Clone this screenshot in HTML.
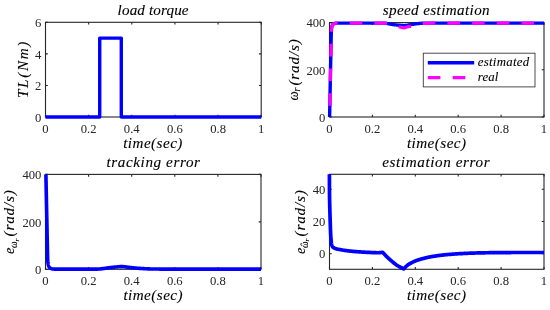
<!DOCTYPE html>
<html lang="en"><head><meta charset="utf-8"><title>simulation results</title>
<style>
html,body{margin:0;padding:0;background:#fff;}
body{width:550px;height:310px;overflow:hidden;}
svg{display:block;}
.tk{font-family:"Liberation Serif",serif;font-size:13.4px;fill:#262626;}
.it{font-family:"Liberation Serif",serif;font-style:italic;font-size:14px;fill:#000;stroke:#000;stroke-width:0.1px;}
.lg{font-family:"Liberation Serif",serif;font-style:italic;font-size:12.8px;fill:#000;stroke:#000;stroke-width:0.1px;}
</style></head><body>
<svg width="550" height="310" viewBox="0 0 550 310">
<rect width="550" height="310" fill="#fff"/>
<path d="M45.5 117 v-2.3 M45.5 22.3 v2.3 M88.64 117 v-2.3 M88.64 22.3 v2.3 M131.78 117 v-2.3 M131.78 22.3 v2.3 M174.92 117 v-2.3 M174.92 22.3 v2.3 M218.06 117 v-2.3 M218.06 22.3 v2.3 M261.2 117 v-2.3 M261.2 22.3 v2.3 M45.5 117 h2.3 M261.2 117 h-2.3 M45.5 85.43 h2.3 M261.2 85.43 h-2.3 M45.5 53.87 h2.3 M261.2 53.87 h-2.3 M45.5 22.3 h2.3 M261.2 22.3 h-2.3" stroke="#262626" stroke-width="1.1" fill="none"/>
<rect x="45.5" y="22.3" width="215.7" height="94.7" fill="none" stroke="#262626" stroke-width="1.1"/>
<path d="M45.5 117 H99.72 V38.08 H121.29 V117 H261.2" fill="none" stroke="#0000ff" stroke-width="3.4" stroke-linejoin="round"/>
<text class="tk" transform="translate(45.5 132.9) scale(0.945 1)" text-anchor="middle">0</text>
<text class="tk" transform="translate(88.64 132.9) scale(0.945 1)" text-anchor="middle">0.2</text>
<text class="tk" transform="translate(131.78 132.9) scale(0.945 1)" text-anchor="middle">0.4</text>
<text class="tk" transform="translate(174.92 132.9) scale(0.945 1)" text-anchor="middle">0.6</text>
<text class="tk" transform="translate(218.06 132.9) scale(0.945 1)" text-anchor="middle">0.8</text>
<text class="tk" transform="translate(261.2 132.9) scale(0.945 1)" text-anchor="middle">1</text>
<text class="tk" transform="translate(41.4 121.7) scale(0.945 1)" text-anchor="end">0</text>
<text class="tk" transform="translate(41.4 90.13) scale(0.945 1)" text-anchor="end">2</text>
<text class="tk" transform="translate(41.4 58.57) scale(0.945 1)" text-anchor="end">4</text>
<text class="tk" transform="translate(41.4 27) scale(0.945 1)" text-anchor="end">6</text>
<path d="M329.5 117 v-2.3 M329.5 22.6 v2.3 M372.4 117 v-2.3 M372.4 22.6 v2.3 M415.3 117 v-2.3 M415.3 22.6 v2.3 M458.2 117 v-2.3 M458.2 22.6 v2.3 M501.1 117 v-2.3 M501.1 22.6 v2.3 M544 117 v-2.3 M544 22.6 v2.3 M329.5 117 h2.3 M544 117 h-2.3 M329.5 69.8 h2.3 M544 69.8 h-2.3 M329.5 22.6 h2.3 M544 22.6 h-2.3" stroke="#262626" stroke-width="1.1" fill="none"/>
<rect x="329.5" y="22.6" width="214.5" height="94.4" fill="none" stroke="#262626" stroke-width="1.1"/>
<path d="M329.6 117 L331.25 34 L331.27 33.08 L331.3 32.21 L331.33 31.39 L331.37 30.62 L331.42 29.89 L331.47 29.22 L331.54 28.59 L331.61 28 L331.7 27.46 L331.8 26.95 L331.91 26.49 L332.04 26.06 L332.19 25.67 L332.35 25.31 L332.52 24.99 L332.72 24.7 L332.94 24.43 L333.18 24.2 L333.44 23.99 L333.72 23.81 L334.02 23.66 L334.35 23.53 L334.71 23.41 L335.09 23.32 L335.5 23.25 L335.94 23.19 L336.41 23.15 L336.91 23.12 L337.44 23.1 L338 23.1 L338.5 23.1 L339 23.1 L339.5 23.1 L340 23.1 L340.5 23.1 L341 23.1 L341.5 23.1 L342 23.1 L342.5 23.1 L343 23.1 L343.5 23.1 L344 23.1 L344.5 23.1 L345 23.1 L345.5 23.1 L346 23.1 L346.5 23.1 L347 23.1 L347.5 23.1 L348 23.1 L348.5 23.1 L349 23.1 L349.5 23.1 L350 23.1 L350.5 23.1 L351 23.1 L351.5 23.1 L352 23.1 L352.5 23.1 L353 23.1 L353.5 23.1 L354 23.1 L354.5 23.1 L355 23.1 L355.5 23.1 L356 23.1 L356.5 23.1 L357 23.1 L357.5 23.1 L358 23.1 L358.5 23.1 L359 23.1 L359.5 23.1 L360 23.1 L360.5 23.1 L361 23.1 L361.5 23.1 L362 23.1 L362.5 23.1 L363 23.1 L363.5 23.1 L364 23.1 L364.5 23.1 L365 23.1 L365.5 23.1 L366 23.1 L366.5 23.1 L367 23.1 L367.5 23.1 L368 23.1 L368.5 23.1 L369 23.1 L369.5 23.1 L370 23.1 L370.5 23.1 L371 23.1 L371.5 23.1 L372 23.1 L372.5 23.1 L373 23.1 L373.5 23.1 L374 23.1 L374.5 23.1 L375 23.1 L375.5 23.1 L376 23.1 L376.5 23.1 L377 23.1 L377.5 23.1 L378 23.1 L378.5 23.1 L379 23.1 L379.5 23.1 L380 23.1 L380.5 23.1 L381 23.1 L381.5 23.1 L382 23.1 L382.5 23.1 L383 23.1 L383.5 23.1 L384 23.11 L384.5 23.15 L385 23.21 L385.5 23.27 L386 23.35 L386.5 23.43 L387 23.5 L387.5 23.57 L388 23.66 L388.5 23.75 L389 23.85 L389.5 23.95 L390 24.06 L390.5 24.16 L391 24.26 L391.5 24.36 L392 24.45 L392.5 24.53 L393 24.6 L393.5 24.66 L394 24.72 L394.5 24.78 L395 24.83 L395.5 24.88 L396 24.93 L396.5 24.98 L397 25.02 L397.5 25.07 L398 25.11 L398.5 25.16 L399 25.2 L399.47 25.24 L399.95 25.29 L400.42 25.34 L400.89 25.39 L401.36 25.43 L401.84 25.48 L402.31 25.52 L402.78 25.55 L403.25 25.58 L403.73 25.59 L404.2 25.6 L404.69 25.59 L405.17 25.56 L405.66 25.52 L406.14 25.46 L406.63 25.39 L407.11 25.31 L407.6 25.23 L408.09 25.13 L408.57 25.04 L409.06 24.95 L409.54 24.85 L410.03 24.76 L410.51 24.68 L411 24.6 L411.5 24.52 L412 24.44 L412.5 24.36 L413 24.28 L413.5 24.2 L414 24.11 L414.5 24.03 L415 23.96 L415.5 23.88 L416 23.82 L416.5 23.75 L417 23.7 L417.5 23.65 L418 23.6 L418.5 23.55 L419 23.51 L419.5 23.47 L420 23.43 L420.5 23.39 L421 23.35 L421.5 23.32 L422 23.29 L422.5 23.27 L423 23.25 L423.5 23.23 L424 23.22 L424.5 23.2 L425 23.19 L425.5 23.17 L426 23.16 L426.5 23.15 L427 23.13 L427.5 23.12 L428 23.12 L428.5 23.11 L429 23.1 L429.5 23.1 L430 23.1 L430.5 23.1 L431 23.1 L431.5 23.1 L432 23.1 L432.5 23.1 L433 23.1 L433.5 23.1 L434 23.1 L434.5 23.1 L435 23.1 L435.5 23.1 L436 23.1 L436.5 23.1 L437 23.1 L437.5 23.1 L438 23.1 L438.5 23.1 L439 23.1 L439.5 23.1 L440 23.1 L440.5 23.1 L441 23.1 L441.5 23.1 L442 23.1 L442.5 23.1 L443 23.1 L443.5 23.1 L444 23.1 L444.5 23.1 L445 23.1 L445.5 23.1 L446 23.1 L446.5 23.1 L447 23.1 L447.5 23.1 L448 23.1 L448.5 23.1 L449 23.1 L449.5 23.1 L450 23.1 L450.5 23.1 L451 23.1 L451.5 23.1 L452 23.1 L452.5 23.1 L453 23.1 L453.5 23.1 L454 23.1 L454.5 23.1 L455 23.1 L455.5 23.1 L456 23.1 L456.5 23.1 L457 23.1 L457.5 23.1 L458 23.1 L458.5 23.1 L459 23.1 L459.5 23.1 L460 23.1 L460.5 23.1 L461 23.1 L461.5 23.1 L462 23.1 L462.5 23.1 L463 23.1 L463.5 23.1 L464 23.1 L464.5 23.1 L465 23.1 L465.5 23.1 L466 23.1 L466.5 23.1 L467 23.1 L467.5 23.1 L468 23.1 L468.5 23.1 L469 23.1 L469.5 23.1 L470 23.1 L470.5 23.1 L471 23.1 L471.5 23.1 L472 23.1 L472.5 23.1 L473 23.1 L473.5 23.1 L474 23.1 L474.5 23.1 L475 23.1 L475.5 23.1 L476 23.1 L476.5 23.1 L477 23.1 L477.5 23.1 L478 23.1 L478.5 23.1 L479 23.1 L479.5 23.1 L480 23.1 L480.5 23.1 L481 23.1 L481.5 23.1 L482 23.1 L482.5 23.1 L483 23.1 L483.5 23.1 L484 23.1 L484.5 23.1 L485 23.1 L485.5 23.1 L486 23.1 L486.5 23.1 L487 23.1 L487.5 23.1 L488 23.1 L488.5 23.1 L489 23.1 L489.5 23.1 L490 23.1 L490.5 23.1 L491 23.1 L491.5 23.1 L492 23.1 L492.5 23.1 L493 23.1 L493.5 23.1 L494 23.1 L494.5 23.1 L495 23.1 L495.5 23.1 L496 23.1 L496.5 23.1 L497 23.1 L497.5 23.1 L498 23.1 L498.5 23.1 L499 23.1 L499.5 23.1 L500 23.1 L500.5 23.1 L501 23.1 L501.5 23.1 L502 23.1 L502.5 23.1 L503 23.1 L503.5 23.1 L504 23.1 L504.5 23.1 L505 23.1 L505.5 23.1 L506 23.1 L506.5 23.1 L507 23.1 L507.5 23.1 L508 23.1 L508.5 23.1 L509 23.1 L509.5 23.1 L510 23.1 L510.5 23.1 L511 23.1 L511.5 23.1 L512 23.1 L512.5 23.1 L513 23.1 L513.5 23.1 L514 23.1 L514.5 23.1 L515 23.1 L515.5 23.1 L516 23.1 L516.5 23.1 L517 23.1 L517.5 23.1 L518 23.1 L518.5 23.1 L519 23.1 L519.5 23.1 L520 23.1 L520.5 23.1 L521 23.1 L521.5 23.1 L522 23.1 L522.5 23.1 L523 23.1 L523.5 23.1 L524 23.1 L524.5 23.1 L525 23.1 L525.5 23.1 L526 23.1 L526.5 23.1 L527 23.1 L527.5 23.1 L528 23.1 L528.5 23.1 L529 23.1 L529.5 23.1 L530 23.1 L530.5 23.1 L531 23.1 L531.5 23.1 L532 23.1 L532.5 23.1 L533 23.1 L533.5 23.1 L534 23.1 L534.5 23.1 L535 23.1 L535.5 23.1 L536 23.1 L536.5 23.1 L537 23.1 L537.5 23.1 L538 23.1 L538.5 23.1 L539 23.1 L539.5 23.1 L540 23.1 L540.5 23.1 L541 23.1 L541.5 23.1 L542 23.1 L542.5 23.1 L543 23.1 L543.5 23.1 L544 23.1" fill="none" stroke="#0000ff" stroke-width="3.4" stroke-linejoin="round"/>
<path id="realp" d="M329.6 117 L331.25 34 L331.27 33.08 L331.3 32.21 L331.33 31.39 L331.37 30.62 L331.42 29.89 L331.47 29.22 L331.54 28.59 L331.61 28 L331.7 27.46 L331.8 26.95 L331.91 26.49 L332.04 26.06 L332.19 25.67 L332.35 25.31 L332.52 24.99 L332.72 24.7 L332.94 24.43 L333.18 24.2 L333.44 23.99 L333.72 23.81 L334.02 23.66 L334.35 23.53 L334.71 23.41 L335.09 23.32 L335.5 23.25 L335.94 23.19 L336.41 23.15 L336.91 23.12 L337.44 23.1 L338 23.1 L338.5 23.1 L339 23.1 L339.5 23.1 L340 23.1 L340.5 23.1 L341 23.1 L341.5 23.1 L342 23.1 L342.5 23.1 L343 23.1 L343.5 23.1 L344 23.1 L344.5 23.1 L345 23.1 L345.5 23.1 L346 23.1 L346.5 23.1 L347 23.1 L347.5 23.1 L348 23.1 L348.5 23.1 L349 23.1 L349.5 23.1 L350 23.1 L350.5 23.1 L351 23.1 L351.5 23.1 L352 23.1 L352.5 23.1 L353 23.1 L353.5 23.1 L354 23.1 L354.5 23.1 L355 23.1 L355.5 23.1 L356 23.1 L356.5 23.1 L357 23.1 L357.5 23.1 L358 23.1 L358.5 23.1 L359 23.1 L359.5 23.1 L360 23.1 L360.5 23.1 L361 23.1 L361.5 23.1 L362 23.1 L362.5 23.1 L363 23.1 L363.5 23.1 L364 23.1 L364.5 23.1 L365 23.1 L365.5 23.1 L366 23.1 L366.5 23.1 L367 23.1 L367.5 23.1 L368 23.1 L368.5 23.1 L369 23.1 L369.5 23.1 L370 23.1 L370.5 23.1 L371 23.1 L371.5 23.1 L372 23.1 L372.5 23.1 L373 23.1 L373.5 23.1 L374 23.1 L374.5 23.1 L375 23.1 L375.5 23.1 L376 23.1 L376.5 23.1 L377 23.1 L377.5 23.1 L378 23.1 L378.5 23.1 L379 23.1 L379.5 23.1 L380 23.1 L380.5 23.1 L381 23.1 L381.5 23.1 L382 23.1 L382.5 23.1 L383 23.1 L383.5 23.1 L384 23.11 L384.5 23.14 L385 23.19 L385.5 23.24 L386 23.31 L386.5 23.38 L387 23.45 L387.5 23.53 L388 23.64 L388.5 23.77 L389 23.91 L389.5 24.06 L390 24.22 L390.5 24.39 L391 24.56 L391.5 24.73 L392 24.9 L392.5 25.05 L393 25.2 L393.47 25.33 L393.93 25.46 L394.4 25.59 L394.87 25.73 L395.33 25.86 L395.8 25.99 L396.27 26.11 L396.73 26.24 L397.2 26.36 L397.67 26.48 L398.13 26.59 L398.6 26.7 L399.07 26.81 L399.53 26.93 L400 27.05 L400.47 27.17 L400.93 27.29 L401.4 27.41 L401.87 27.51 L402.33 27.61 L402.8 27.69 L403.27 27.75 L403.73 27.79 L404.2 27.8 L404.67 27.76 L405.13 27.64 L405.6 27.48 L406.07 27.31 L406.53 27.14 L407 27 L407.5 26.89 L408 26.78 L408.5 26.69 L409 26.6 L409.5 26.51 L410 26.41 L410.5 26.31 L411 26.2 L411.5 26.08 L412 25.94 L412.5 25.8 L413 25.65 L413.5 25.49 L414 25.33 L414.5 25.18 L415 25.02 L415.5 24.88 L416 24.74 L416.5 24.61 L417 24.5 L417.5 24.39 L418 24.29 L418.5 24.19 L419 24.08 L419.5 23.99 L420 23.89 L420.5 23.81 L421 23.73 L421.5 23.66 L422 23.59 L422.5 23.54 L423 23.5 L423.5 23.47 L424 23.43 L424.5 23.4 L425 23.38 L425.5 23.35 L426 23.33 L426.5 23.3 L427 23.28 L427.5 23.27 L428 23.25 L428.5 23.23 L429 23.22 L429.5 23.21 L430 23.2 L430.5 23.19 L431 23.18 L431.5 23.18 L432 23.17 L432.5 23.16 L433 23.15 L433.5 23.15 L434 23.14 L434.5 23.13 L435 23.13 L435.5 23.12 L436 23.12 L436.5 23.11 L437 23.11 L437.5 23.11 L438 23.11 L438.5 23.1 L439 23.1 L439.5 23.1 L440 23.1 L440.5 23.1 L441 23.1 L441.5 23.1 L442 23.1 L442.5 23.1 L443 23.1 L443.5 23.1 L444 23.1 L444.5 23.1 L445 23.1 L445.5 23.1 L446 23.1 L446.5 23.1 L447 23.1 L447.5 23.1 L448 23.1 L448.5 23.1 L449 23.1 L449.5 23.1 L450 23.1 L450.5 23.1 L451 23.1 L451.5 23.1 L452 23.1 L452.5 23.1 L453 23.1 L453.5 23.1 L454 23.1 L454.5 23.1 L455 23.1 L455.5 23.1 L456 23.1 L456.5 23.1 L457 23.1 L457.5 23.1 L458 23.1 L458.5 23.1 L459 23.1 L459.5 23.1 L460 23.1 L460.5 23.1 L461 23.1 L461.5 23.1 L462 23.1 L462.5 23.1 L463 23.1 L463.5 23.1 L464 23.1 L464.5 23.1 L465 23.1 L465.5 23.1 L466 23.1 L466.5 23.1 L467 23.1 L467.5 23.1 L468 23.1 L468.5 23.1 L469 23.1 L469.5 23.1 L470 23.1 L470.5 23.1 L471 23.1 L471.5 23.1 L472 23.1 L472.5 23.1 L473 23.1 L473.5 23.1 L474 23.1 L474.5 23.1 L475 23.1 L475.5 23.1 L476 23.1 L476.5 23.1 L477 23.1 L477.5 23.1 L478 23.1 L478.5 23.1 L479 23.1 L479.5 23.1 L480 23.1 L480.5 23.1 L481 23.1 L481.5 23.1 L482 23.1 L482.5 23.1 L483 23.1 L483.5 23.1 L484 23.1 L484.5 23.1 L485 23.1 L485.5 23.1 L486 23.1 L486.5 23.1 L487 23.1 L487.5 23.1 L488 23.1 L488.5 23.1 L489 23.1 L489.5 23.1 L490 23.1 L490.5 23.1 L491 23.1 L491.5 23.1 L492 23.1 L492.5 23.1 L493 23.1 L493.5 23.1 L494 23.1 L494.5 23.1 L495 23.1 L495.5 23.1 L496 23.1 L496.5 23.1 L497 23.1 L497.5 23.1 L498 23.1 L498.5 23.1 L499 23.1 L499.5 23.1 L500 23.1 L500.5 23.1 L501 23.1 L501.5 23.1 L502 23.1 L502.5 23.1 L503 23.1 L503.5 23.1 L504 23.1 L504.5 23.1 L505 23.1 L505.5 23.1 L506 23.1 L506.5 23.1 L507 23.1 L507.5 23.1 L508 23.1 L508.5 23.1 L509 23.1 L509.5 23.1 L510 23.1 L510.5 23.1 L511 23.1 L511.5 23.1 L512 23.1 L512.5 23.1 L513 23.1 L513.5 23.1 L514 23.1 L514.5 23.1 L515 23.1 L515.5 23.1 L516 23.1 L516.5 23.1 L517 23.1 L517.5 23.1 L518 23.1 L518.5 23.1 L519 23.1 L519.5 23.1 L520 23.1 L520.5 23.1 L521 23.1 L521.5 23.1 L522 23.1 L522.5 23.1 L523 23.1 L523.5 23.1 L524 23.1 L524.5 23.1 L525 23.1 L525.5 23.1 L526 23.1 L526.5 23.1 L527 23.1 L527.5 23.1 L528 23.1 L528.5 23.1 L529 23.1 L529.5 23.1 L530 23.1 L530.5 23.1 L531 23.1 L531.5 23.1 L532 23.1 L532.5 23.1 L533 23.1 L533.5 23.1 L534 23.1 L534.5 23.1 L535 23.1 L535.5 23.1 L536 23.1 L536.5 23.1 L537 23.1 L537.5 23.1 L538 23.1 L538.5 23.1 L539 23.1 L539.5 23.1 L540 23.1 L540.5 23.1 L541 23.1 L541.5 23.1 L542 23.1 L542.5 23.1 L543 23.1 L543.5 23.1 L544 23.1" fill="none" stroke="#ff00ff" stroke-width="3.2" stroke-linejoin="round" stroke-dasharray="12.6 12.1" stroke-dashoffset="13.5"/>
<text class="tk" transform="translate(329.5 132.9) scale(0.945 1)" text-anchor="middle">0</text>
<text class="tk" transform="translate(372.4 132.9) scale(0.945 1)" text-anchor="middle">0.2</text>
<text class="tk" transform="translate(415.3 132.9) scale(0.945 1)" text-anchor="middle">0.4</text>
<text class="tk" transform="translate(458.2 132.9) scale(0.945 1)" text-anchor="middle">0.6</text>
<text class="tk" transform="translate(501.1 132.9) scale(0.945 1)" text-anchor="middle">0.8</text>
<text class="tk" transform="translate(544 132.9) scale(0.945 1)" text-anchor="middle">1</text>
<text class="tk" transform="translate(325.4 121.7) scale(0.945 1)" text-anchor="end">0</text>
<text class="tk" transform="translate(325.4 74.5) scale(0.945 1)" text-anchor="end">200</text>
<text class="tk" transform="translate(325.4 27.3) scale(0.945 1)" text-anchor="end">400</text>
<rect x="423.3" y="53.2" width="111.7" height="33.7" fill="#fff" stroke="#3a3a3a" stroke-width="0.9"/>
<path d="M427.8 62.7 H474.2" stroke="#0000ff" stroke-width="3.4" fill="none"/>
<path d="M427.8 77.7 H474.2" stroke="#ff00ff" stroke-width="3.2" fill="none" stroke-dasharray="12.6 12.3"/>
<text class="lg" x="477.8" y="65.9" textLength="51.3" lengthAdjust="spacing">estimated</text>
<text class="lg" x="477.8" y="80.5" textLength="20.6" lengthAdjust="spacing">real</text>
<path d="M45.5 269.3 v-2.3 M45.5 174.4 v2.3 M88.6 269.3 v-2.3 M88.6 174.4 v2.3 M131.7 269.3 v-2.3 M131.7 174.4 v2.3 M174.8 269.3 v-2.3 M174.8 174.4 v2.3 M217.9 269.3 v-2.3 M217.9 174.4 v2.3 M261 269.3 v-2.3 M261 174.4 v2.3 M45.5 269.3 h2.3 M261 269.3 h-2.3 M45.5 221.85 h2.3 M261 221.85 h-2.3 M45.5 174.4 h2.3 M261 174.4 h-2.3" stroke="#262626" stroke-width="1.1" fill="none"/>
<rect x="45.5" y="174.4" width="215.5" height="94.9" fill="none" stroke="#262626" stroke-width="1.1"/>
<path d="M45.9 174.4 L47.6 257 L47.63 257.93 L47.66 258.81 L47.7 259.65 L47.75 260.44 L47.8 261.19 L47.87 261.91 L47.94 262.58 L48.03 263.21 L48.12 263.8 L48.23 264.36 L48.36 264.88 L48.5 265.36 L48.65 265.81 L48.82 266.23 L49.01 266.61 L49.21 266.96 L49.44 267.29 L49.68 267.58 L49.95 267.84 L50.23 268.07 L50.54 268.28 L50.88 268.46 L51.23 268.62 L51.62 268.75 L52.03 268.86 L52.46 268.95 L52.93 269.02 L53.42 269.06 L53.95 269.09 L54.5 269.1 L55 269.1 L55.5 269.1 L56 269.1 L56.5 269.1 L57 269.1 L57.5 269.1 L58 269.1 L58.5 269.1 L59 269.1 L59.5 269.1 L60 269.1 L60.5 269.1 L61 269.1 L61.5 269.1 L62 269.1 L62.5 269.1 L63 269.1 L63.5 269.1 L64 269.1 L64.5 269.1 L65 269.1 L65.5 269.1 L66 269.1 L66.5 269.1 L67 269.1 L67.5 269.1 L68 269.1 L68.5 269.1 L69 269.1 L69.5 269.1 L70 269.1 L70.5 269.1 L71 269.1 L71.5 269.1 L72 269.1 L72.5 269.1 L73 269.1 L73.5 269.1 L74 269.1 L74.5 269.1 L75 269.1 L75.5 269.1 L76 269.1 L76.5 269.1 L77 269.1 L77.5 269.1 L78 269.1 L78.5 269.1 L79 269.1 L79.5 269.1 L80 269.1 L80.5 269.1 L81 269.1 L81.5 269.1 L82 269.1 L82.5 269.1 L83 269.1 L83.5 269.1 L84 269.1 L84.5 269.1 L85 269.1 L85.5 269.1 L86 269.1 L86.5 269.1 L87 269.1 L87.5 269.1 L88 269.1 L88.5 269.1 L89 269.1 L89.5 269.1 L90 269.1 L90.5 269.1 L91 269.1 L91.5 269.1 L92 269.1 L92.5 269.1 L93 269.1 L93.5 269.1 L94 269.1 L94.5 269.1 L95 269.1 L95.5 269.1 L96 269.1 L96.5 269.1 L97 269.1 L97.5 269.1 L98 269.09 L98.5 269.07 L99 269.04 L99.5 269 L100 268.95 L100.5 268.9 L101 268.84 L101.5 268.78 L102 268.72 L102.5 268.66 L103 268.6 L103.5 268.54 L104 268.48 L104.5 268.41 L105 268.34 L105.5 268.26 L106 268.18 L106.5 268.11 L107 268.03 L107.5 267.95 L108 267.87 L108.5 267.8 L109 267.73 L109.5 267.66 L110 267.6 L110.5 267.54 L111 267.49 L111.5 267.43 L112 267.38 L112.5 267.32 L113 267.27 L113.5 267.22 L114 267.18 L114.5 267.13 L115 267.08 L115.5 267.04 L116 267 L116.48 266.96 L116.97 266.92 L117.45 266.87 L117.93 266.83 L118.42 266.78 L118.9 266.74 L119.38 266.7 L119.87 266.67 L120.35 266.64 L120.83 266.62 L121.32 266.6 L121.8 266.6 L122.28 266.61 L122.75 266.63 L123.23 266.65 L123.71 266.69 L124.18 266.74 L124.66 266.79 L125.14 266.85 L125.62 266.91 L126.09 266.97 L126.57 267.03 L127.05 267.09 L127.52 267.15 L128 267.2 L128.5 267.25 L129 267.31 L129.5 267.37 L130 267.43 L130.5 267.49 L131 267.55 L131.5 267.61 L132 267.67 L132.5 267.73 L133 267.79 L133.5 267.85 L134 267.9 L134.5 267.95 L135 268 L135.5 268.05 L136 268.09 L136.5 268.13 L137 268.18 L137.5 268.22 L138 268.26 L138.5 268.3 L139 268.34 L139.5 268.38 L140 268.41 L140.5 268.45 L141 268.48 L141.5 268.51 L142 268.54 L142.5 268.57 L143 268.6 L143.5 268.63 L144 268.65 L144.5 268.68 L145 268.7 L145.5 268.73 L146 268.76 L146.5 268.78 L147 268.8 L147.5 268.83 L148 268.85 L148.5 268.87 L149 268.89 L149.5 268.91 L150 268.93 L150.5 268.94 L151 268.96 L151.5 268.97 L152 268.98 L152.5 268.99 L153 269 L153.5 269.01 L154 269.01 L154.5 269.02 L155 269.03 L155.5 269.03 L156 269.04 L156.5 269.05 L157 269.05 L157.5 269.06 L158 269.06 L158.5 269.07 L159 269.07 L159.5 269.08 L160 269.08 L160.5 269.08 L161 269.09 L161.5 269.09 L162 269.09 L162.5 269.09 L163 269.1 L163.5 269.1 L164 269.1 L164.5 269.1 L165 269.1 L165.5 269.1 L166 269.1 L166.5 269.1 L167 269.1 L167.5 269.1 L168 269.1 L168.5 269.1 L169 269.1 L169.5 269.1 L170 269.1 L170.5 269.1 L171 269.1 L171.5 269.1 L172 269.1 L172.5 269.1 L173 269.1 L173.5 269.1 L174 269.1 L174.5 269.1 L175 269.1 L175.5 269.1 L176 269.1 L176.5 269.1 L177 269.1 L177.5 269.1 L178 269.1 L178.5 269.1 L179 269.1 L179.5 269.1 L180 269.1 L180.5 269.1 L181 269.1 L181.5 269.1 L182 269.1 L182.5 269.1 L183 269.1 L183.5 269.1 L184 269.1 L184.5 269.1 L185 269.1 L185.5 269.1 L186 269.1 L186.5 269.1 L187 269.1 L187.5 269.1 L188 269.1 L188.5 269.1 L189 269.1 L189.5 269.1 L190 269.1 L190.5 269.1 L191 269.1 L191.5 269.1 L192 269.1 L192.5 269.1 L193 269.1 L193.5 269.1 L194 269.1 L194.5 269.1 L195 269.1 L195.5 269.1 L196 269.1 L196.5 269.1 L197 269.1 L197.5 269.1 L198 269.1 L198.5 269.1 L199 269.1 L199.5 269.1 L200 269.1 L200.5 269.1 L201 269.1 L201.5 269.1 L202 269.1 L202.5 269.1 L203 269.1 L203.5 269.1 L204 269.1 L204.5 269.1 L205 269.1 L205.5 269.1 L206 269.1 L206.5 269.1 L207 269.1 L207.5 269.1 L208 269.1 L208.5 269.1 L209 269.1 L209.5 269.1 L210 269.1 L210.5 269.1 L211 269.1 L211.5 269.1 L212 269.1 L212.5 269.1 L213 269.1 L213.5 269.1 L214 269.1 L214.5 269.1 L215 269.1 L215.5 269.1 L216 269.1 L216.5 269.1 L217 269.1 L217.5 269.1 L218 269.1 L218.5 269.1 L219 269.1 L219.5 269.1 L220 269.1 L220.5 269.1 L221 269.1 L221.5 269.1 L222 269.1 L222.5 269.1 L223 269.1 L223.5 269.1 L224 269.1 L224.5 269.1 L225 269.1 L225.5 269.1 L226 269.1 L226.5 269.1 L227 269.1 L227.5 269.1 L228 269.1 L228.5 269.1 L229 269.1 L229.5 269.1 L230 269.1 L230.5 269.1 L231 269.1 L231.5 269.1 L232 269.1 L232.5 269.1 L233 269.1 L233.5 269.1 L234 269.1 L234.5 269.1 L235 269.1 L235.5 269.1 L236 269.1 L236.5 269.1 L237 269.1 L237.5 269.1 L238 269.1 L238.5 269.1 L239 269.1 L239.5 269.1 L240 269.1 L240.5 269.1 L241 269.1 L241.5 269.1 L242 269.1 L242.5 269.1 L243 269.1 L243.5 269.1 L244 269.1 L244.5 269.1 L245 269.1 L245.5 269.1 L246 269.1 L246.5 269.1 L247 269.1 L247.5 269.1 L248 269.1 L248.5 269.1 L249 269.1 L249.5 269.1 L250 269.1 L250.5 269.1 L251 269.1 L251.5 269.1 L252 269.1 L252.5 269.1 L253 269.1 L253.5 269.1 L254 269.1 L254.5 269.1 L255 269.1 L255.5 269.1 L256 269.1 L256.5 269.1 L257 269.1 L257.5 269.1 L258 269.1 L258.5 269.1 L259 269.1 L259.5 269.1 L260 269.1 L260.5 269.1 L261 269.1" fill="none" stroke="#0000ff" stroke-width="3.6" stroke-linejoin="round"/>
<text class="tk" transform="translate(45.5 285.2) scale(0.945 1)" text-anchor="middle">0</text>
<text class="tk" transform="translate(88.6 285.2) scale(0.945 1)" text-anchor="middle">0.2</text>
<text class="tk" transform="translate(131.7 285.2) scale(0.945 1)" text-anchor="middle">0.4</text>
<text class="tk" transform="translate(174.8 285.2) scale(0.945 1)" text-anchor="middle">0.6</text>
<text class="tk" transform="translate(217.9 285.2) scale(0.945 1)" text-anchor="middle">0.8</text>
<text class="tk" transform="translate(261 285.2) scale(0.945 1)" text-anchor="middle">1</text>
<text class="tk" transform="translate(41.4 274) scale(0.945 1)" text-anchor="end">0</text>
<text class="tk" transform="translate(41.4 226.55) scale(0.945 1)" text-anchor="end">200</text>
<text class="tk" transform="translate(41.4 179.1) scale(0.945 1)" text-anchor="end">400</text>
<path d="M329.5 269.3 v-2.3 M329.5 174.3 v2.3 M372.4 269.3 v-2.3 M372.4 174.3 v2.3 M415.3 269.3 v-2.3 M415.3 174.3 v2.3 M458.2 269.3 v-2.3 M458.2 174.3 v2.3 M501.1 269.3 v-2.3 M501.1 174.3 v2.3 M544 269.3 v-2.3 M544 174.3 v2.3 M329.5 253.7 h2.3 M544 253.7 h-2.3 M329.5 221.5 h2.3 M544 221.5 h-2.3 M329.5 189.3 h2.3 M544 189.3 h-2.3" stroke="#262626" stroke-width="1.1" fill="none"/>
<rect x="329.5" y="174.3" width="214.5" height="95" fill="none" stroke="#262626" stroke-width="1.1"/>
<path d="M329.4 174.3 L329.41 175.53 L329.41 177.05 L329.42 178.82 L329.43 180.8 L329.43 182.97 L329.44 185.28 L329.46 187.69 L329.47 190.16 L329.5 192.67 L329.52 195.17 L329.56 197.63 L329.6 200 L329.65 202.41 L329.71 204.98 L329.78 207.67 L329.86 210.42 L329.94 213.21 L330.02 215.98 L330.11 218.7 L330.2 221.32 L330.28 223.81 L330.36 226.11 L330.43 228.19 L330.5 230 L330.56 231.55 L330.62 232.89 L330.67 234.04 L330.73 235.03 L330.78 235.87 L330.82 236.61 L330.87 237.25 L330.92 237.83 L330.96 238.37 L331.01 238.89 L331.05 239.43 L331.1 240 L331.14 240.56 L331.18 241.07 L331.22 241.52 L331.26 241.92 L331.29 242.28 L331.33 242.61 L331.36 242.92 L331.4 243.2 L331.44 243.48 L331.49 243.75 L331.54 244.02 L331.6 244.3 L331.67 244.58 L331.75 244.86 L331.84 245.13 L331.93 245.39 L332.03 245.64 L332.13 245.87 L332.23 246.09 L332.32 246.29 L332.41 246.47 L332.49 246.64 L332.55 246.78 L332.6 246.9 L333.08 247.22 L333.56 247.56 L334.04 247.89 L334.52 248.18 L335 248.4 L335.5 248.57 L336 248.73 L336.5 248.87 L337 248.99 L337.5 249.11 L338 249.21 L338.5 249.31 L339 249.41 L339.5 249.5 L340 249.6 L340.49 249.69 L340.97 249.79 L341.46 249.88 L341.94 249.96 L342.43 250.05 L342.91 250.13 L343.4 250.21 L343.89 250.29 L344.37 250.36 L344.86 250.44 L345.34 250.51 L345.83 250.57 L346.31 250.64 L346.8 250.7 L347.29 250.76 L347.77 250.82 L348.26 250.87 L348.74 250.93 L349.23 250.99 L349.71 251.04 L350.2 251.09 L350.69 251.14 L351.17 251.19 L351.66 251.24 L352.14 251.29 L352.63 251.33 L353.11 251.38 L353.6 251.42 L354.09 251.46 L354.57 251.51 L355.06 251.55 L355.54 251.59 L356.03 251.63 L356.51 251.66 L357 251.7 L357.49 251.74 L357.98 251.77 L358.46 251.81 L358.95 251.84 L359.44 251.87 L359.93 251.91 L360.41 251.94 L360.9 251.97 L361.39 252 L361.88 252.03 L362.36 252.06 L362.85 252.09 L363.34 252.12 L363.82 252.15 L364.31 252.18 L364.8 252.2 L365.29 252.23 L365.77 252.26 L366.26 252.28 L366.75 252.31 L367.24 252.33 L367.72 252.35 L368.21 252.38 L368.7 252.4 L369.19 252.42 L369.68 252.45 L370.17 252.47 L370.66 252.5 L371.15 252.52 L371.64 252.55 L372.13 252.57 L372.62 252.59 L373.11 252.62 L373.59 252.64 L374.08 252.66 L374.57 252.68 L375.06 252.7 L375.55 252.71 L376.04 252.72 L376.53 252.74 L377.02 252.74 L377.51 252.75 L378 252.75 L378.47 252.74 L378.94 252.72 L379.41 252.68 L379.88 252.63 L380.35 252.58 L380.82 252.52 L381.29 252.46 L381.76 252.4 L382.23 252.35 L382.7 252.3 L382.86 252.47 L383.05 252.68 L383.26 252.93 L383.51 253.21 L383.78 253.51 L384.07 253.84 L384.37 254.18 L384.69 254.52 L385.01 254.87 L385.34 255.22 L385.67 255.57 L386 255.9 L386.33 256.23 L386.66 256.55 L386.99 256.88 L387.34 257.22 L387.69 257.56 L388.05 257.9 L388.42 258.25 L388.81 258.6 L389.21 258.97 L389.62 259.34 L390.05 259.71 L390.5 260.1 L390.97 260.5 L391.47 260.93 L391.98 261.37 L392.51 261.82 L393.06 262.28 L393.61 262.74 L394.18 263.2 L394.74 263.65 L395.31 264.09 L395.88 264.51 L396.44 264.92 L397 265.3 L397.57 265.67 L398.18 266.03 L398.82 266.4 L399.47 266.75 L400.12 267.1 L400.76 267.43 L401.37 267.74 L401.96 268.03 L402.49 268.29 L402.97 268.53 L403.38 268.73 L403.7 268.9 L404.18 268.43 L404.65 267.94 L405.12 267.44 L405.6 266.94 L406.07 266.46 L406.55 266.01 L407.02 265.58 L407.5 265.2 L407.98 264.85 L408.46 264.51 L408.94 264.19 L409.42 263.88 L409.9 263.59 L410.38 263.31 L410.86 263.04 L411.34 262.78 L411.82 262.54 L412.3 262.3 L412.77 262.07 L413.25 261.86 L413.72 261.65 L414.19 261.45 L414.66 261.25 L415.14 261.06 L415.61 260.88 L416.08 260.7 L416.55 260.53 L417.03 260.36 L417.5 260.2 L417.98 260.04 L418.47 259.88 L418.95 259.73 L419.43 259.58 L419.92 259.44 L420.4 259.29 L420.88 259.16 L421.37 259.02 L421.85 258.89 L422.33 258.76 L422.82 258.63 L423.3 258.5 L423.78 258.37 L424.26 258.25 L424.74 258.12 L425.21 258 L425.69 257.88 L426.17 257.76 L426.65 257.64 L427.13 257.53 L427.61 257.41 L428.09 257.3 L428.56 257.2 L429.04 257.09 L429.52 256.99 L430 256.9 L430.47 256.81 L430.93 256.73 L431.4 256.64 L431.87 256.56 L432.33 256.49 L432.8 256.41 L433.27 256.34 L433.73 256.27 L434.2 256.2 L434.69 256.13 L435.18 256.06 L435.67 255.98 L436.16 255.91 L436.65 255.84 L437.15 255.77 L437.64 255.7 L438.13 255.64 L438.62 255.57 L439.11 255.5 L439.6 255.44 L440.09 255.37 L440.58 255.31 L441.07 255.25 L441.56 255.19 L442.05 255.13 L442.55 255.07 L443.04 255.01 L443.53 254.96 L444.02 254.9 L444.51 254.85 L445 254.8 L445.5 254.75 L446 254.7 L446.5 254.65 L447 254.61 L447.5 254.56 L448 254.52 L448.5 254.48 L449 254.43 L449.5 254.39 L450 254.35 L450.5 254.31 L451 254.28 L451.5 254.24 L452 254.2 L452.5 254.16 L453 254.13 L453.5 254.09 L454 254.05 L454.5 254.02 L455 253.98 L455.5 253.95 L456 253.92 L456.5 253.88 L457 253.85 L457.5 253.82 L458 253.78 L458.5 253.75 L459 253.72 L459.5 253.69 L460 253.66 L460.5 253.63 L461 253.61 L461.5 253.58 L462 253.55 L462.5 253.53 L463 253.5 L463.5 253.48 L464 253.45 L464.5 253.43 L465 253.4 L465.5 253.38 L466 253.36 L466.5 253.33 L467 253.31 L467.5 253.29 L468 253.27 L468.5 253.25 L469 253.23 L469.5 253.21 L470 253.19 L470.5 253.17 L471 253.15 L471.5 253.13 L472 253.11 L472.5 253.1 L473 253.08 L473.5 253.07 L474 253.05 L474.5 253.04 L475 253.02 L475.5 253.01 L476 252.99 L476.5 252.98 L477 252.96 L477.5 252.95 L478 252.94 L478.5 252.93 L479 252.91 L479.5 252.9 L480 252.89 L480.5 252.88 L481 252.87 L481.5 252.85 L482 252.84 L482.5 252.83 L483 252.82 L483.5 252.81 L484 252.8 L484.5 252.79 L485 252.78 L485.5 252.77 L486 252.77 L486.5 252.76 L487 252.75 L487.5 252.74 L488 252.73 L488.5 252.73 L489 252.72 L489.5 252.71 L490 252.71 L490.5 252.7 L491 252.69 L491.5 252.69 L492 252.68 L492.5 252.67 L493 252.67 L493.5 252.66 L494 252.66 L494.5 252.65 L495 252.64 L495.5 252.64 L496 252.63 L496.5 252.63 L497 252.62 L497.5 252.62 L498 252.62 L498.5 252.61 L499 252.61 L499.5 252.6 L500 252.6 L500.5 252.6 L501 252.59 L501.5 252.59 L502 252.59 L502.5 252.58 L503 252.58 L503.5 252.57 L504 252.57 L504.5 252.57 L505 252.56 L505.5 252.56 L506 252.56 L506.5 252.55 L507 252.55 L507.5 252.55 L508 252.54 L508.5 252.54 L509 252.54 L509.5 252.53 L510 252.53 L510.5 252.53 L511 252.53 L511.5 252.52 L512 252.52 L512.5 252.52 L513 252.52 L513.5 252.51 L514 252.51 L514.5 252.51 L515 252.51 L515.5 252.51 L516 252.51 L516.5 252.5 L517 252.5 L517.5 252.5 L518 252.5 L518.5 252.5 L519 252.5 L519.5 252.5 L520 252.5 L520.5 252.5 L521 252.5 L521.5 252.5 L522 252.5 L522.5 252.5 L523 252.5 L523.5 252.5 L524 252.5 L524.5 252.5 L525 252.5 L525.5 252.5 L526 252.5 L526.5 252.5 L527 252.5 L527.5 252.5 L528 252.5 L528.5 252.5 L529 252.5 L529.5 252.5 L530 252.5 L530.5 252.5 L531 252.5 L531.5 252.5 L532 252.5 L532.5 252.5 L533 252.5 L533.5 252.5 L534 252.5 L534.5 252.5 L535 252.5 L535.5 252.5 L536 252.5 L536.5 252.5 L537 252.5 L537.5 252.5 L538 252.5 L538.5 252.5 L539 252.5 L539.5 252.5 L540 252.5 L540.5 252.5 L541 252.5 L541.5 252.5 L542 252.5 L542.5 252.5 L543 252.5 L543.5 252.5 L544 252.5" fill="none" stroke="#0000ff" stroke-width="3.7" stroke-linejoin="round"/>
<text class="tk" transform="translate(329.5 285.2) scale(0.945 1)" text-anchor="middle">0</text>
<text class="tk" transform="translate(372.4 285.2) scale(0.945 1)" text-anchor="middle">0.2</text>
<text class="tk" transform="translate(415.3 285.2) scale(0.945 1)" text-anchor="middle">0.4</text>
<text class="tk" transform="translate(458.2 285.2) scale(0.945 1)" text-anchor="middle">0.6</text>
<text class="tk" transform="translate(501.1 285.2) scale(0.945 1)" text-anchor="middle">0.8</text>
<text class="tk" transform="translate(544 285.2) scale(0.945 1)" text-anchor="middle">1</text>
<text class="tk" transform="translate(325.4 258.4) scale(0.945 1)" text-anchor="end">0</text>
<text class="tk" transform="translate(325.4 226.2) scale(0.945 1)" text-anchor="end">20</text>
<text class="tk" transform="translate(325.4 194) scale(0.945 1)" text-anchor="end">40</text>
<text class="it" transform="translate(117.6 15.3) scale(1.08 1)" textLength="65.74" lengthAdjust="spacing">load torque</text>
<text class="it" transform="translate(382.7 15) scale(1.08 1)" textLength="99.07" lengthAdjust="spacing">speed estimation</text>
<text class="it" transform="translate(106.45 167) scale(1.08 1)" textLength="86.57" lengthAdjust="spacing">tracking error</text>
<text class="it" transform="translate(382.2 167) scale(1.08 1)" textLength="99.44" lengthAdjust="spacing">estimation error</text>
<text class="it" transform="translate(123.2 148) scale(1.08 1)" textLength="54.81" lengthAdjust="spacing">time(sec)</text>
<text class="it" transform="translate(406.9 148) scale(1.08 1)" textLength="54.81" lengthAdjust="spacing">time(sec)</text>
<text class="it" transform="translate(123.4 300) scale(1.08 1)" textLength="54.81" lengthAdjust="spacing">time(sec)</text>
<text class="it" transform="translate(406.9 300) scale(1.08 1)" textLength="54.81" lengthAdjust="spacing">time(sec)</text>
<text class="it" transform="translate(27.6 98) rotate(-90) scale(1.08 1)" textLength="52.22" lengthAdjust="spacing">TL(Nm)</text>
<text class="it" transform="translate(297.9 100.6) rotate(-90)" textLength="9.2" lengthAdjust="spacingAndGlyphs">ω</text>
<text class="it" style="font-size:9.8px" transform="translate(300.3 91.4) rotate(-90)" textLength="3.9" lengthAdjust="spacingAndGlyphs">r</text>
<text class="it" transform="translate(298.5 85.6) rotate(-90) scale(1.08 1)" textLength="42.96" lengthAdjust="spacing">(rad/s)</text>
<text class="it" transform="translate(14.3 254) rotate(-90)" textLength="6.4" lengthAdjust="spacingAndGlyphs">e</text>
<text class="it" style="font-size:9.8px" transform="translate(16.5 247.9) rotate(-90)" textLength="6.6" lengthAdjust="spacingAndGlyphs">ω</text>
<text class="it" style="font-size:7px" transform="translate(18.7 241.5) rotate(-90)" textLength="2.9" lengthAdjust="spacingAndGlyphs">r</text>
<text class="it" transform="translate(14.3 236.5) rotate(-90) scale(1.08 1)" textLength="42.96" lengthAdjust="spacing">(rad/s)</text>
<text class="it" transform="translate(304.5 254) rotate(-90)" textLength="6.4" lengthAdjust="spacingAndGlyphs">e</text>
<text class="it" style="font-size:9.8px" transform="translate(307.9 247.9) rotate(-90)" textLength="6.6" lengthAdjust="spacingAndGlyphs">ω</text>
<text class="it" style="font-size:9.8px" transform="translate(308.3 247) rotate(-90)" textLength="3.6" lengthAdjust="spacingAndGlyphs">ˆ</text>
<text class="it" style="font-size:7px" transform="translate(309.3 241.5) rotate(-90)" textLength="2.9" lengthAdjust="spacingAndGlyphs">r</text>
<text class="it" transform="translate(304.5 236.5) rotate(-90) scale(1.08 1)" textLength="42.96" lengthAdjust="spacing">(rad/s)</text>
</svg></body></html>
